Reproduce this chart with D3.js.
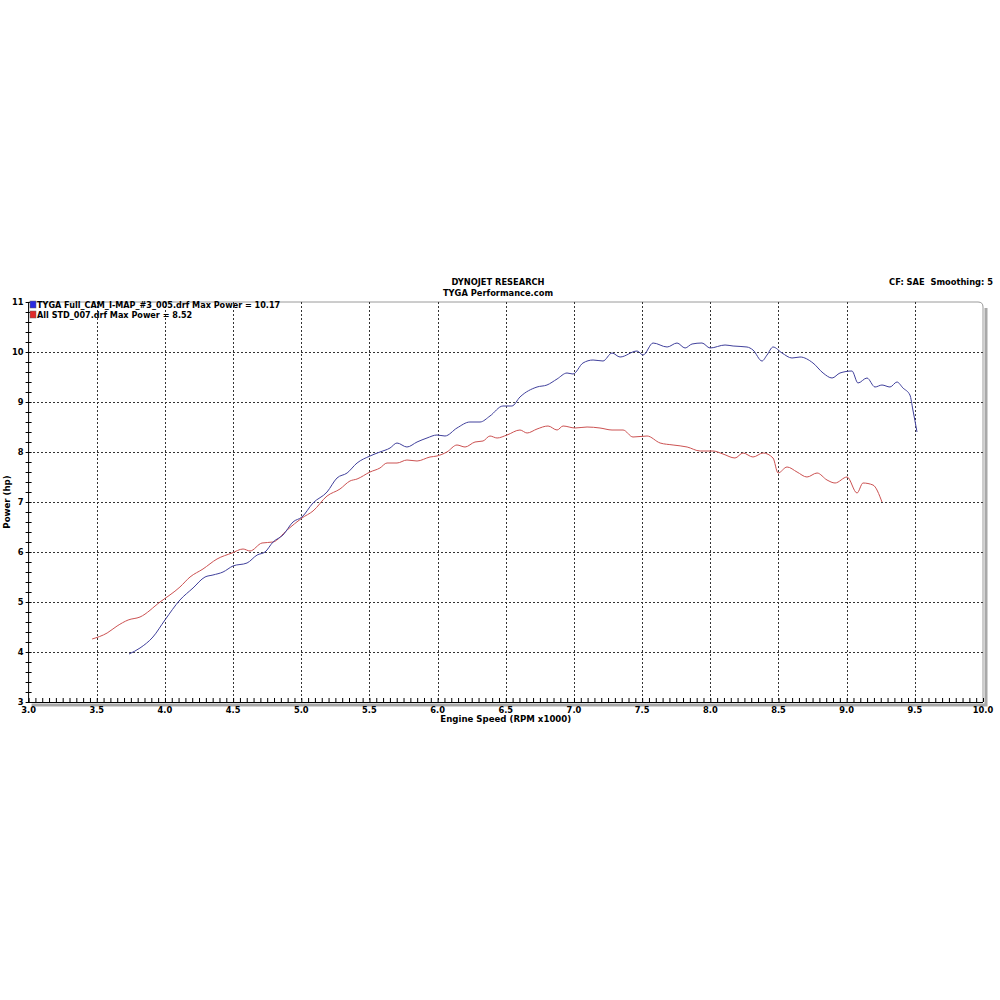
<!DOCTYPE html>
<html><head><meta charset="utf-8">
<script src="https://cdn.jsdelivr.net/npm/d3@7"></script>
<style>body{margin:0;background:#fff}svg{display:block}text{font-family:Verdana,"DejaVu Sans",sans-serif;font-weight:bold;white-space:pre}</style>
</head><body><svg id="c" width="1000" height="1000"></svg>
<script>
const titleLines = ["DYNOJET RESEARCH", "TYGA Performance.com"];
const cfText = "CF: SAE  Smoothing: 5";
const seriesNames = ["TYGA Full_CAM_I-MAP_#3_005.drf Max Power = 10.17", "All STD_007.drf Max Power = 8.52"];
const seriesColors = ["#40409c", "#cc5252"];
const xLabel = "Engine Speed (RPM x1000)";
const yLabel = "Power (hp)";
const xTicks = [3.0,3.5,4.0,4.5,5.0,5.5,6.0,6.5,7.0,7.5,8.0,8.5,9.0,9.5,10.0];
const yTicks = [3,4,5,6,7,8,9,10,11];

const blueRpm = [3.737,3.817,3.912,4.000,4.110,4.206,4.294,4.352,4.426,4.499,4.602,4.676,4.734,4.793,4.866,4.939,5.005,5.086,5.189,5.262,5.336,5.409,5.504,5.577,5.651,5.702,5.775,5.849,5.922,5.995,6.054,6.142,6.237,6.311,6.384,6.479,6.545,6.604,6.729,6.802,6.876,6.949,6.993,7.066,7.140,7.213,7.279,7.338,7.463,7.507,7.580,7.683,7.756,7.815,7.866,7.939,7.998,8.108,8.167,8.269,8.313,8.379,8.416,8.460,8.526,8.599,8.658,8.753,8.827,8.893,8.951,9.039,9.083,9.149,9.208,9.259,9.318,9.369,9.413,9.464,9.486,9.516];
const blueHp = [3.96,4.08,4.30,4.64,5.04,5.28,5.50,5.54,5.60,5.72,5.78,5.94,6.00,6.20,6.34,6.60,6.70,6.98,7.20,7.48,7.58,7.78,7.92,8.00,8.08,8.18,8.10,8.20,8.28,8.34,8.32,8.48,8.60,8.60,8.72,8.92,8.92,9.10,9.30,9.34,9.46,9.58,9.56,9.78,9.84,9.82,9.98,9.90,10.02,9.94,10.18,10.10,10.18,10.08,10.16,10.18,10.08,10.14,10.12,10.10,10.04,9.82,9.94,10.10,9.98,9.88,9.90,9.78,9.58,9.48,9.58,9.62,9.38,9.48,9.30,9.34,9.30,9.40,9.28,9.14,8.84,8.40];

const redRpm = [3.466,3.576,3.649,3.730,3.817,3.964,4.110,4.184,4.279,4.382,4.492,4.573,4.624,4.712,4.793,4.896,5.005,5.086,5.189,5.284,5.357,5.409,5.504,5.577,5.629,5.702,5.775,5.849,5.944,5.995,6.068,6.142,6.201,6.274,6.333,6.384,6.436,6.509,6.604,6.656,6.729,6.810,6.876,6.920,7.008,7.096,7.191,7.279,7.360,7.433,7.536,7.632,7.727,7.830,7.925,8.020,8.093,8.181,8.240,8.313,8.387,8.460,8.497,8.563,8.636,8.709,8.783,8.856,8.915,9.003,9.076,9.120,9.193,9.259];
const redHp = [4.26,4.38,4.52,4.64,4.70,5.00,5.30,5.50,5.66,5.86,5.98,6.06,6.02,6.18,6.20,6.44,6.68,6.82,7.12,7.26,7.42,7.46,7.60,7.68,7.78,7.78,7.84,7.82,7.90,7.92,8.00,8.14,8.10,8.20,8.22,8.32,8.28,8.34,8.44,8.38,8.46,8.52,8.44,8.52,8.48,8.50,8.48,8.44,8.44,8.30,8.32,8.18,8.14,8.10,8.02,8.02,7.96,7.88,7.98,7.90,7.98,7.88,7.58,7.70,7.60,7.50,7.58,7.44,7.38,7.50,7.18,7.38,7.34,7.00];

const svg = d3.select("#c");
const L = 28.6, R = 983, T = 302, B = 702;
const x = d3.scaleLinear().domain([3, 10]).range([L, R]);
const y = d3.scaleLinear().domain([3, 11]).range([B, T]);

// frame shadow
svg.append("path").attr("d", `M${L+3},${B+3} H${R+3} V${T+6}`)
  .attr("fill","none").attr("stroke","#a8a8a8").attr("stroke-width",3);
// top and right border
svg.append("path").attr("d", `M${L},${T} H${R-5} Q${R},${T} ${R},${T+5} V${B}`)
  .attr("fill","none").attr("stroke","#9a9a9a").attr("stroke-width",1);

// grid
const gridStyle = g => g.attr("stroke","#333").attr("stroke-width",1).attr("stroke-dasharray","2,2").attr("shape-rendering","crispEdges");
svg.append("g").selectAll("line").data(yTicks.filter(v => v > 3 && v < 11)).join("line")
  .attr("x1", L).attr("x2", R).attr("y1", d => Math.round(y(d))+0.5).attr("y2", d => Math.round(y(d))+0.5).call(gridStyle);
svg.append("g").selectAll("line").data(xTicks.filter(v => v > 3 && v < 10)).join("line")
  .attr("y1", T).attr("y2", B).attr("x1", d => Math.round(x(d))+0.5).attr("x2", d => Math.round(x(d))+0.5).call(gridStyle);

// y axis
const yAxis = d3.axisLeft(y).tickValues(d3.range(3, 11.001, 0.2)).tickSize(6).tickFormat("");
const gy = svg.append("g").attr("transform", `translate(${L+3},0)`).call(yAxis);
gy.select(".domain").remove();
gy.selectAll("line").attr("stroke","#000");
svg.append("line").attr("x1",L).attr("x2",L).attr("y1",T).attr("y2",B).attr("stroke","#000");
svg.append("g").selectAll("text").data(yTicks).join("text")
  .attr("x", L-5).attr("y", d => y(d)+3).attr("text-anchor","end").attr("font-size",8.3).text(d => d);

// x axis
const xAxis = d3.axisTop(x).tickValues(d3.range(3, 10.001, 0.05)).tickSize(4).tickFormat("");
const gx = svg.append("g").attr("transform", `translate(0,${B})`).call(xAxis);
gx.select(".domain").remove();
gx.selectAll("line").attr("stroke","#000");
svg.append("line").attr("x1",L).attr("x2",R).attr("y1",B+0.5).attr("y2",B+0.5).attr("stroke","#000");
svg.append("g").selectAll("text").data(xTicks).join("text")
  .attr("x", d => x(d)).attr("y", B+11).attr("text-anchor","middle").attr("font-size",8.3).text(d => d.toFixed(1));

// axis titles
svg.append("text").attr("x", (L+R)/2).attr("y", B+20).attr("text-anchor","middle").attr("font-size",8.6).text(xLabel);
svg.append("text").attr("transform", `translate(10,${(T+B)/2}) rotate(-90)`).attr("text-anchor","middle").attr("font-size",8.6).text(yLabel);

// titles
svg.selectAll(".title").data(titleLines).join("text").attr("class","title")
  .attr("x", 498).attr("y", (d,i) => 285 + i*11).attr("text-anchor","middle").attr("font-size",8.3).text(d => d);
svg.append("text").attr("x", 993).attr("y", 285).attr("text-anchor","end").attr("font-size",8.3).text(cfText);

// lines
const line = d3.line().x(d => x(d[0])).y(d => y(d[1])).curve(d3.curveMonotoneX);
const blue = blueRpm.map((r,i) => [r, blueHp[i]]);
const red = redRpm.map((r,i) => [r, redHp[i]]);
svg.append("path").datum(red).attr("d", line).attr("fill","none").attr("stroke", seriesColors[1]).attr("stroke-width",1);
svg.append("path").datum(blue).attr("d", line).attr("fill","none").attr("stroke", seriesColors[0]).attr("stroke-width",1);

// legend
const lg = svg.append("g");
seriesNames.forEach((n,i) => {
  const yy = 301 + i*10;
  lg.append("rect").attr("x", 30).attr("y", yy).attr("width", 6).attr("height", 7)
    .attr("fill", i===0 ? "#2a2ae0" : "#e02a2a").attr("stroke","#666").attr("stroke-width",0.5);
  lg.append("text").attr("x", 37).attr("y", yy+7).attr("font-size",8.1).text(n);
});
</script></body></html>
